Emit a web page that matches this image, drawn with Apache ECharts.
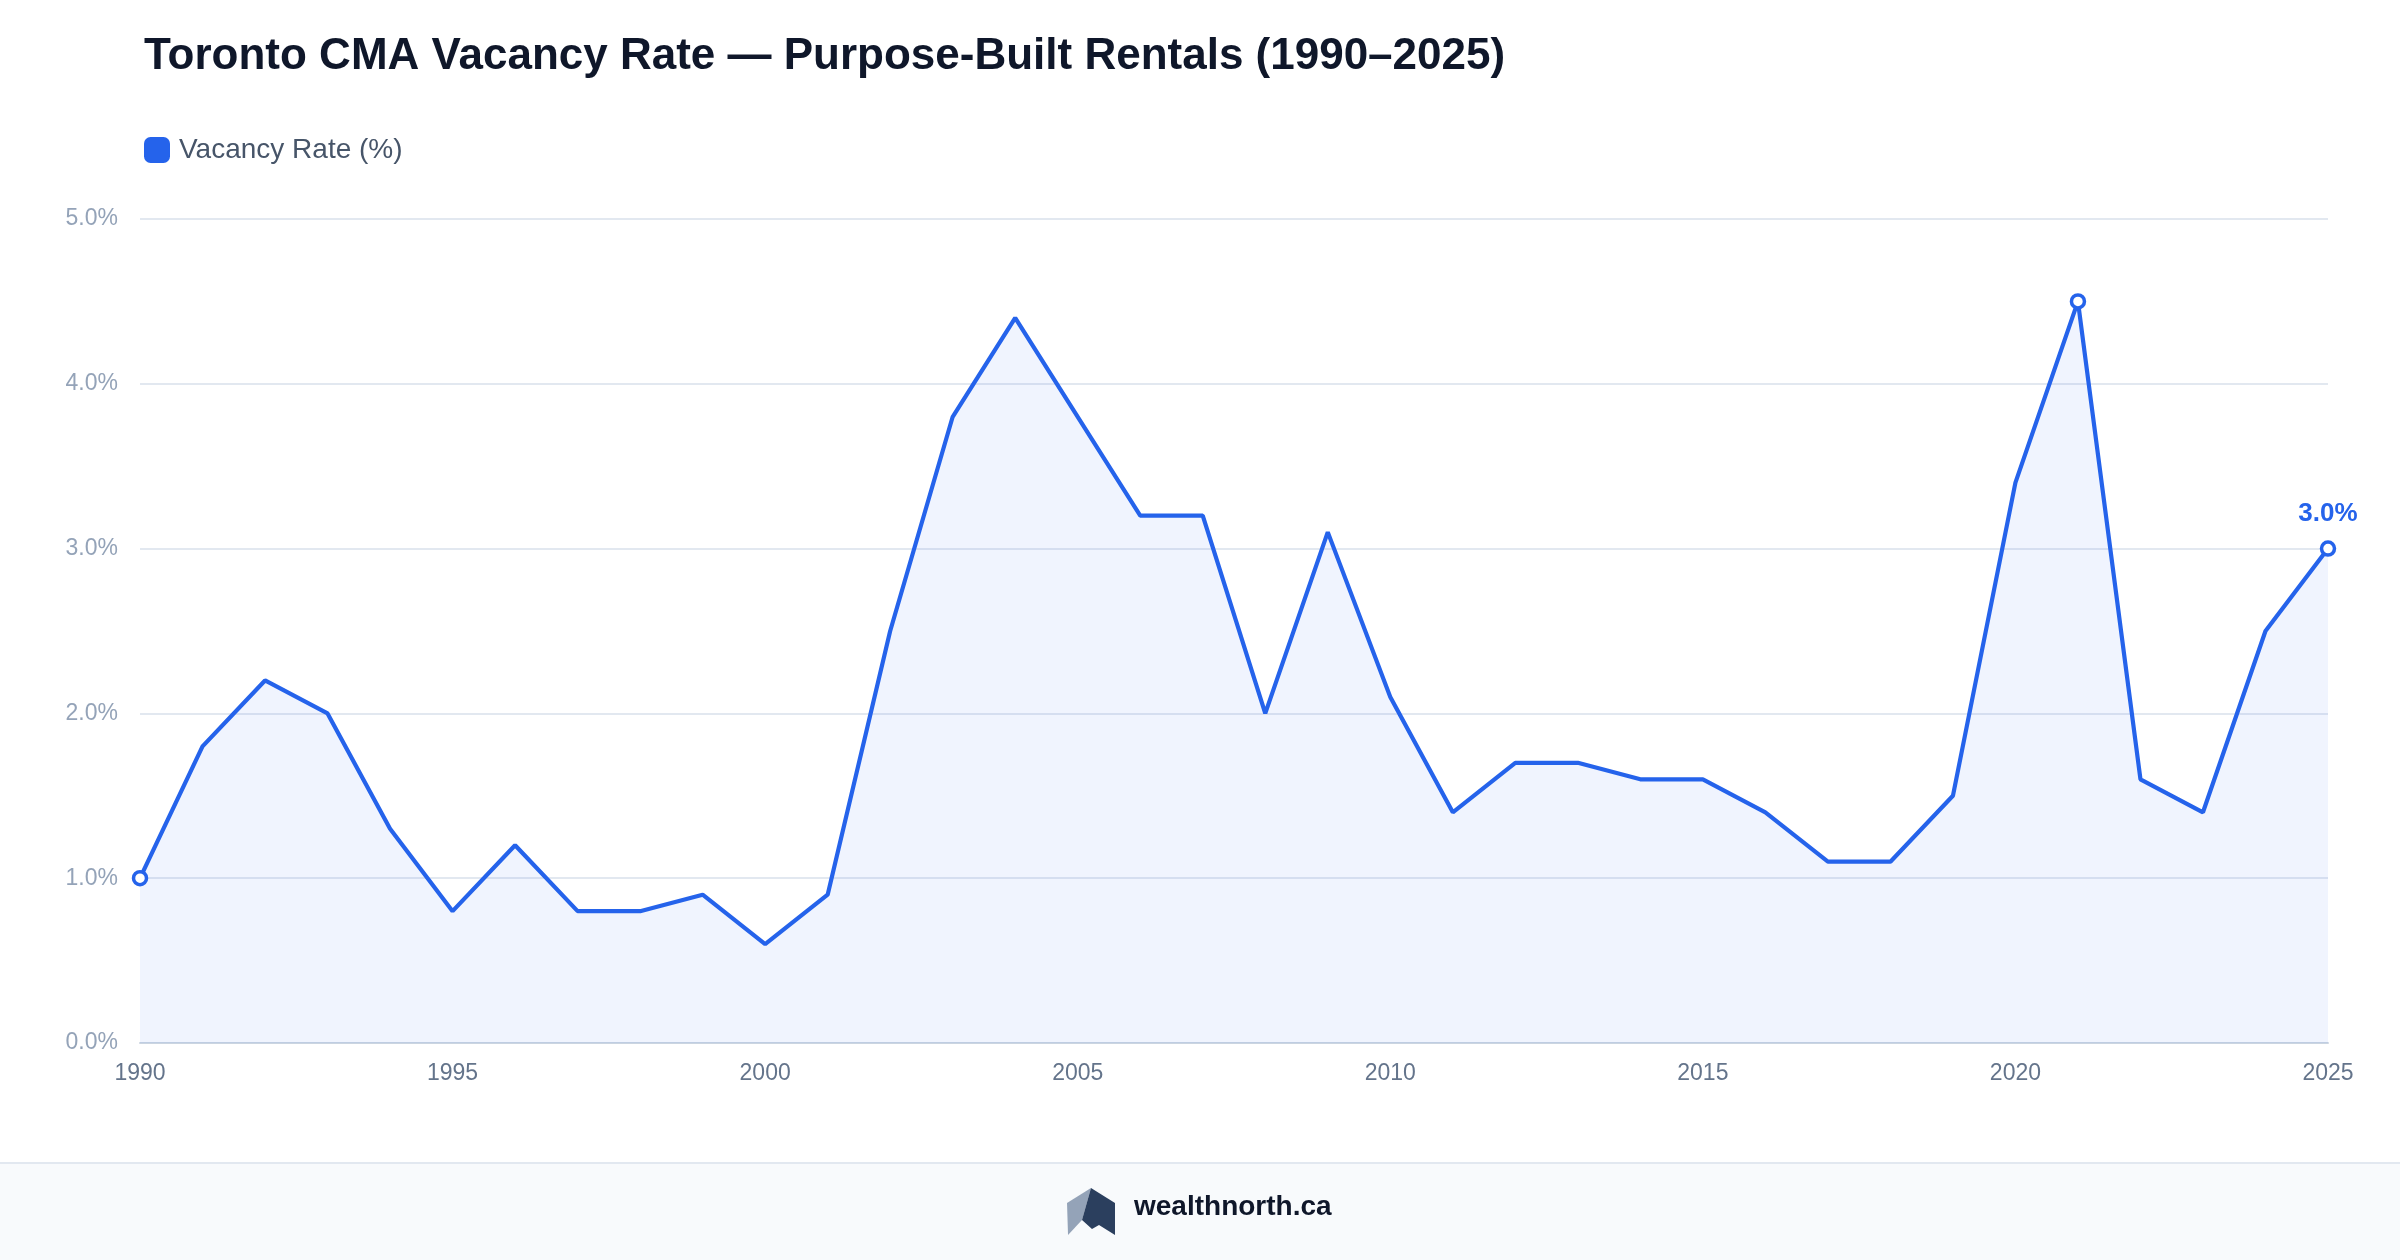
<!DOCTYPE html>
<html>
<head>
<meta charset="utf-8">
<script src="https://cdn.jsdelivr.net/npm/echarts@6/dist/echarts.min.js"></script>
<style>
html,body{margin:0;padding:0;background:#ffffff;}
#chart{width:2400px;height:1260px;}
</style>
</head>
<body>
<div id="chart"></div>
<script>
const years = [1990,1991,1992,1993,1994,1995,1996,1997,1998,1999,2000,2001,2002,2003,2004,2005,2006,2007,2008,2009,2010,2011,2012,2013,2014,2015,2016,2017,2018,2019,2020,2021,2022,2023,2024,2025];
const vacancyRate = [1.0,1.8,2.2,2.0,1.3,0.8,1.2,0.8,0.8,0.9,0.6,0.9,2.5,3.8,4.4,3.8,3.2,3.2,2.0,3.1,2.1,1.4,1.7,1.7,1.6,1.6,1.4,1.1,1.1,1.5,3.4,4.5,1.6,1.4,2.5,3.0];
const highlightYears = [1990,2021,2025];
const labelYears = [2025];
const yTicks = [0,1,2,3,4,5];
const xTicks = [1990,1995,2000,2005,2010,2015,2020,2025];

const FONT = '"Liberation Sans", Arial, Helvetica, sans-serif';
const BLUE = '#2563eb';

const seriesData = years.map((y, i) => {
  const item = { value: [y, vacancyRate[i]] };
  if (highlightYears.includes(y)) {
    item.symbolSize = 13;
  }
  if (labelYears.includes(y)) {
    item.label = {
      show: true, position: 'top', distance: 14,
      formatter: (p) => p.value[1].toFixed(1) + '%',
      color: BLUE, fontSize: 26, fontWeight: 'bold', fontFamily: FONT
    };
  }
  return item;
});

const chart = echarts.init(document.getElementById('chart'), null, { renderer: 'canvas' });
chart.setOption({
  backgroundColor: '#ffffff',
  animation: false,
  title: {
    text: 'Toronto CMA Vacancy Rate — Purpose-Built Rentals (1990–2025)',
    left: 139, top: 30,
    textStyle: { fontFamily: FONT, fontSize: 44, fontWeight: 'bold', color: '#0f172a' }
  },
  legend: {
    left: 139, top: 131,
    itemWidth: 26, itemHeight: 26, itemGap: 10,
    icon: 'roundRect',
    textStyle: { fontFamily: FONT, fontSize: 28, color: '#475569', padding: [0,0,0,4] },
    data: [{ name: 'Vacancy Rate (%)', itemStyle: { color: BLUE, borderWidth: 0 } }]
  },
  grid: { left: 140, right: 72, top: 219, bottom: 217, containLabel: false },
  xAxis: {
    type: 'value', min: 1990, max: 2025, interval: 5,
    axisLine: { show: true, lineStyle: { color: '#cbd5e1', width: 2 } },
    axisTick: { show: false },
    splitLine: { show: false },
    axisLabel: {
      margin: 19, color: '#64748b', fontSize: 23, fontFamily: FONT,
      formatter: (v) => xTicks.includes(v) ? String(v) : ''
    }
  },
  yAxis: {
    type: 'value', min: 0, max: 5, interval: 1,
    axisLine: { show: false },
    axisTick: { show: false },
    splitLine: { lineStyle: { color: '#e2e8f0', width: 2 } },
    axisLabel: {
      margin: 22, color: '#94a3b8', fontSize: 23, fontFamily: FONT,
      formatter: (v) => yTicks.includes(v) ? v.toFixed(1) + '%' : ''
    }
  },
  series: [{
    name: 'Vacancy Rate (%)',
    type: 'line',
    data: seriesData,
    symbol: 'circle',
    symbolSize: 0,
    showSymbol: true,
    showAllSymbol: true,
    itemStyle: { color: '#ffffff', borderColor: BLUE, borderWidth: 3.5 },
    lineStyle: { color: BLUE, width: 4.2 },
    areaStyle: { color: 'rgba(37,99,235,0.1)' },
    emphasis: { disabled: true },
    z: 3
  }],
  graphic: [
    { type: 'rect', left: 0, top: 1163, shape: { width: 2400, height: 97 }, style: { fill: '#f8fafc' }, z: 0 },
    { type: 'rect', left: 0, top: 1162, shape: { width: 2400, height: 2 }, style: { fill: '#e2e8f0' }, z: 0 },
    { type: 'polygon', shape: { points: [[1067,1203],[1091,1188],[1082,1220],[1068,1235]] }, style: { fill: '#94a3b8' }, z: 1 },
    { type: 'polygon', shape: { points: [[1091,1188],[1115,1203],[1115,1235],[1099,1225],[1092,1229],[1082,1220]] }, style: { fill: '#2b3f5e' }, z: 1 },
    { type: 'text', left: 1134, top: 1193, style: { text: 'wealthnorth.ca', fill: '#0f172a', font: 'bold 28px ' + FONT }, z: 1 }
  ]
});
</script>
</body>
</html>
